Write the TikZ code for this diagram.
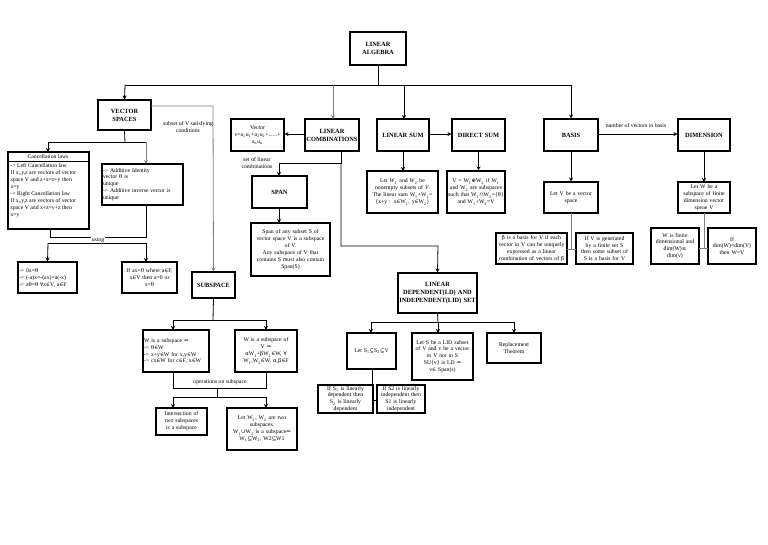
\documentclass[tikz,border=0pt]{standalone}
\usepackage{fontspec}
\setmainfont{Liberation Serif}
\newfontfamily\symf{DejaVu Serif}
\newcommand\sy[1]{{\symf\fontsize{4}{5}\selectfont #1}}
\newcommand\sub[1]{\textsubscript{#1}}
\usetikzlibrary{arrows.meta}
\tikzset{
 box/.style={draw,line width=0.8pt,inner sep=0pt,align=center,font=\fontsize{4.3}{5.2}\selectfont},
 hd/.style={font=\bfseries\fontsize{4.8}{6}\selectfont},
 conn/.style={line width=0.6pt},
 arr/.style={conn,-{Stealth[length=3pt,width=3pt]}},
 gry/.style={draw=gray},
 lbl/.style={font=\fontsize{4.3}{5.2}\selectfont,align=center,inner sep=1pt}
}
\newcommand\bx[7][]{\pgfmathsetmacro\bw{(#4-#2)*0.75}\pgfmathsetmacro\bh{(#5-#3)*0.75}\pgfmathsetmacro\tw{(#4-#2-2)*0.75}\node[box,minimum width=\bw pt,minimum height=\bh pt,text width=\tw pt,#1] (#6) at ({(#2+#4)/2},{(#3+#5)/2}) {#7};}
\begin{document}
\begin{tikzpicture}[x=0.75pt,y=-0.75pt]
\useasboundingbox (0,0) rectangle (768,544);
% top
\bx[hd]{350}{32}{406}{65}{la}{LINEAR\\ALGEBRA}
\bx[hd]{98}{100}{151}{130}{vs}{VECTOR\\SPACES}
\bx[hd]{305}{119}{359}{151}{lc}{LINEAR\\COMBINATIONS}
\bx{231}{119}{284}{151}{vec}{Vector\\ v=a\sub1u\sub1+a\sub2u\sub2+......+\\ a\sub nu\sub n}
\bx[hd]{377}{119}{429}{151}{ls}{LINEAR SUM}
\bx[hd]{452}{119}{505}{151}{ds}{DIRECT SUM}
\bx[hd]{544}{119}{598}{151}{ba}{BASIS}
\bx[hd]{678}{119}{730}{151}{dim}{DIMENSION}
\coordinate (bus) at (378,85);
\draw[conn] (la.south) -- (bus);
\draw[conn] (125,85) -- (571,85);
\draw[arr] (125,85) -- (vs.north);
\draw[arr,gry] (333,85) -- (333,119);
\draw[arr] (404,85) -- (404,119);
\draw[arr] (571,85) -- (ba.north);
\draw[arr] (lc.west |- 0,134) -- (vec.east |- 0,134);
\draw[arr] (ls.east |- 0,134) -- (ds.west |- 0,134);
\draw[arr] (ba.east |- 0,134) -- (dim.west |- 0,134);
\node[lbl] at (636,126) {number of vectors in basis};
\node[lbl] at (257,163) {set of linear\\combinations};
% vector spaces subtree
\bx[hd]{192}{272}{235}{298}{sub}{SUBSPACE}
\draw[arr,gry] (151,106) -- (213,106) -- (sub.north);
\node[lbl] at (188,127) {subset of V satisfying\\conditions};
\bx{8}{152}{89}{229}{can}{}
\draw[line width=0.6pt] (8,161) -- (89,161);
\node[lbl] at (48,156.5) {Cancellation laws};
\node[lbl,align=left,anchor=north west] at (9,162) {-> Left Cancellation law\\If x,,y,z are vectors of vector\\space V and z+x=z+y then\\x=y\\-> Right Cancellation law\\If x,,y,z are vectors of vector\\space V and x+z=y+z then\\x=y};
\bx[align=left]{102}{164}{183}{205}{add}{-> Additive Identity\\vector \sy{θ} is\\unique\\-> Additive inverse vector is\\unique}
\draw[conn] (vs.south) -- (125,142);
\draw[arr] (48,142) -- (48,152);
\draw[arr,gry] (146,142) -- (146,164);
\draw[conn] (48,142) -- (146,142);
\draw[conn] (50,229) -- (50,237) -- (146,237) -- (146,205);
\draw[conn] (98,237) -- (98,243);
\draw[conn] (48,243) -- (146,243);
\node[lbl,fill=white,inner sep=0.5pt] at (98,240) {using};
\bx[align=left]{18}{262}{77}{293}{u1}{-> 0x=\sy{θ}\\-> (-a)x=-(ax)=a(-x)\\-> a\sy{θ}=\sy{θ} \sy{∀}x\sy{∈}V, a\sy{∈}F}
\bx{122}{262}{177}{293}{u2}{If ax=\sy{θ} where a\sy{∈}F,\\x\sy{∈}V then a=0 or\\x=\sy{θ}}
\draw[arr] (48,243) -- (u1.north);
\draw[arr] (146,243) -- (146,262);
% subspace subtree
\bx[align=left]{143}{330}{209}{372}{s1}{W is a subspace \sy{⇔}\\-> \sy{θ∈}W\\-> x+y\sy{∈}W for x,y\sy{∈}W\\-> cx\sy{∈}W for c\sy{∈}F, x\sy{∈}W}
\bx{235}{330}{297}{372}{s2}{W is a subspace of\\V \sy{⇔}\\\sy{α}W\sub1+\sy{β}W\sub2\sy{∈}W, \sy{∀}\\W\sub1,W\sub2\sy{∈}W, \sy{α,β∈}F}
\draw[conn] (sub.south) -- (213,320);
\draw[conn] (173,320) -- (266,320);
\draw[arr] (173,320) -- (173,330);
\draw[arr] (266,320) -- (266,330);
\draw[conn] (173,372) -- (173,388) -- (266,388) -- (266,372);
\node[lbl,fill=white,inner sep=0.5pt] at (220,382) {operations on subspace};
\draw[conn] (217,388) -- (217,397);
\draw[conn] (173,397) -- (266,397);
\bx{156}{408}{207}{435}{o1}{Intersection of two subspaces is a subspace}
\bx{227}{408}{297}{450}{o2}{Let W\sub1, W\sub2 are two\\subspaces.\\W\sub1\sy{∪}W\sub2 is a subspace\sy{⇔}\\W\sub1\sy{⊆}W\sub2, W2\sy{⊆}W1}
\draw[arr] (173,397) -- (173,408);
\draw[arr] (266,397) -- (266,408);
% span, lc
\bx[hd]{252}{176}{307}{208}{span}{SPAN}
\bx{251}{223}{330}{276}{sp}{Span of any subset S of\\vector space V is a subspace\\of V.\\Any subspace of V that\\contains S must also contain\\Span(S)}
\draw[conn] (341,151) -- (341,163) -- (279,163);
\draw[arr] (279,163) -- (279,176);
\draw[arr] (279,208) -- (279,223);
\bx[hd]{398}{273}{477}{313}{ld}{LINEAR\\DEPENDENT(LD) AND\\INDEPENDENT(LID) SET}
\draw[arr] (341,163) -- (341,246) -- (438,246) -- (ld.north);
% linear sum, direct sum
\bx{367}{171}{438}{213}{lsd}{Let \textit{W}\sub1 and \textit{W}\sub2 be\\nonempty subsets of \textit{V}.\\The linear sum W\sub1+W\sub2=\\\{x+y : x\sy{∈}W\sub1, y\sy{∈}W\sub2\}}
\bx{447}{171}{505}{213}{dsd}{V = W\sub1\sy{⊕}W\sub2 if W\sub1\\and W\sub2 are subspaces\\such that W\sub1\sy{∩}W\sub2=\{\sy{θ}\}\\and W\sub1+W\sub2=V}
\draw[arr] (403,151) -- (403,171);
\draw[arr] (ds.south) -- (ds.south |- dsd.north);
% basis
\bx{544}{182}{598}{213}{bd}{Let V be a vector\\space}
\draw[arr] (ba.south) -- (bd.north);
\bx{496}{233}{567}{264}{b1}{\sy{β} is a basis for V if each vector in V can be uniquely expressed as a linear combination of vectors of \sy{β}}
\bx{576}{233}{633}{264}{b2}{If V is generated by a finite set S then some subset of S is a basis for V}
\draw[conn,gry] (571,213) -- (571,249);
\draw[conn,gry] (567,249) -- (576,249);
% dimension
\bx{678}{182}{730}{213}{dd}{Let W be a\\subspace of finite\\dimension vector\\speae V}
\draw[arr] (704,151) -- (704,182);
\bx{651}{228}{699}{264}{d1}{W is finite\\dimensional and\\dim(W)\sy{≤}\\dim(v)}
\bx{708}{228}{756}{264}{d2}{If\\dim(W)=dim(V)\\then W=V}
\draw[conn,gry] (704,213) -- (704,248);
\draw[conn,gry] (699,248) -- (708,248);
% LD subtree
\draw[conn] (ld.south) -- (438,322);
\draw[conn] (371,322) -- (514,322);
\bx{347}{333}{396}{369}{l1}{Let S\sub1\sy{⊆}S\sub2\sy{⊆}V}
\bx{412}{333}{473}{380}{l2}{Let S be a LID subset\\of V and v be a vector\\in V not in S\\SU\{v\} is LD \sy{⇔}\\v\sy{∈} Span(s)}
\bx{487}{333}{541}{363}{l3}{Replacement\\Theorem}
\draw[arr] (371,322) -- (371,333);
\draw[arr] (438,322) -- (438,333);
\draw[arr] (514,322) -- (514,333);
\bx{318}{385}{373}{413}{g1}{If S\sub1 is linearly\\dependent then\\S\sub2 is linearly\\dependent}
\bx{377}{385}{425}{413}{g2}{If S2 is linearly\\independent then\\S1 is linearly\\independent}
\draw[conn] (372,369) -- (372,400);
\draw[conn] (373,400) -- (377,400);
\end{tikzpicture}
\end{document}
